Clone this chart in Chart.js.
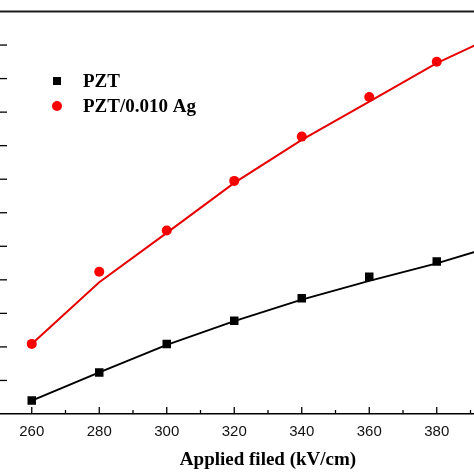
<!DOCTYPE html>
<html><head><meta charset="utf-8">
<script src="https://cdn.jsdelivr.net/npm/chart.js@4"></script>
<style>
html,body{margin:0;padding:0;background:#fff;}
#wrap{position:relative;width:474px;height:474px;overflow:hidden;background:#fff;}
#c{position:absolute;left:-40px;top:0;width:620px;height:474px;}
</style></head><body>
<div id="wrap"><canvas id="c" width="620" height="474"></canvas></div>
<script>
// ---- data ----
const fields = [260, 280, 300, 320, 340, 360, 380, 400];
const pztPoints = [0.040, 0.124, 0.209, 0.278, 0.345, 0.409, 0.455, 0.505];
const pztFit    = [0.040, 0.124, 0.206, 0.277, 0.341, 0.397, 0.449, 0.510];
const agPoints  = [0.209, 0.424, 0.547, 0.695, 0.827, 0.945, 1.050, 1.145];
const agFit     = [0.209, 0.393, 0.540, 0.689, 0.817, 0.931, 1.046, 1.140];
const seriesNames = ['PZT', 'PZT/0.010 Ag'];
const xTickLabels = [260, 280, 300, 320, 340, 360, 380, 400];
const xMinorTicks = [270, 290, 310, 330, 350, 370, 390];
const yTicks = [0.1, 0.2, 0.3, 0.4, 0.5, 0.6, 0.7, 0.8, 0.9, 1.0, 1.1];
const xTitle = 'Applied filed (kV/cm)';

const toXY = (ys) => fields.map((f, i) => ({x: f, y: ys[i]}));
const BLACK = '#000000';
const RED = '#ff0000';

const framePlugin = {
  id: 'frame',
  afterDraw(chart) {
    const ctx = chart.ctx;
    const a = chart.chartArea;
    const xs = chart.scales.x, ys = chart.scales.y;
    ctx.save();
    // top border
    ctx.strokeStyle = '#1a1a1a';
    ctx.lineWidth = 2;
    ctx.beginPath();
    ctx.moveTo(a.left, a.top); ctx.lineTo(a.right, a.top);
    ctx.stroke();
    // left border
    ctx.lineWidth = 1.5;
    ctx.strokeStyle = '#000';
    ctx.beginPath();
    ctx.moveTo(a.left, a.top); ctx.lineTo(a.left, a.bottom);
    ctx.stroke();
    // x ticks inward
    ctx.lineWidth = 1.3;
    xTickLabels.forEach(v => {
      const px = xs.getPixelForValue(v);
      ctx.beginPath(); ctx.moveTo(px, a.bottom); ctx.lineTo(px, a.bottom - 7); ctx.stroke();
    });
    xMinorTicks.forEach(v => {
      const px = xs.getPixelForValue(v);
      ctx.beginPath(); ctx.moveTo(px, a.bottom); ctx.lineTo(px, a.bottom - 4); ctx.stroke();
    });
    // y ticks inward
    yTicks.forEach(v => {
      const py = ys.getPixelForValue(v);
      ctx.beginPath(); ctx.moveTo(a.left, py); ctx.lineTo(a.left + 9, py); ctx.stroke();
    });
    // legend
    const lx = 97, ly = [81, 106], tx = 123;
    ctx.font = 'bold 19px "Liberation Serif", "Times New Roman", serif';
    ctx.textBaseline = 'middle';
    ctx.fillStyle = '#000';
    // square
    ctx.fillStyle = BLACK;
    ctx.fillRect(lx - 4, ly[0] - 4, 8, 8);
    ctx.fillStyle = RED;
    ctx.beginPath(); ctx.arc(lx, ly[1], 5, 0, Math.PI * 2); ctx.fill();
    ctx.fillStyle = '#000';
    ctx.fillText(seriesNames[0], tx, ly[0] + 1);
    ctx.fillText(seriesNames[1], tx, ly[1] + 1);
    ctx.restore();
  }
};

new Chart(document.getElementById('c'), {
  type: 'line',
  data: {
    datasets: [
      { label: seriesNames[0] + ' fit', data: toXY(pztFit), borderColor: BLACK, borderWidth: 2, pointRadius: 0, tension: 0, fill: false },
      { label: seriesNames[1] + ' fit', data: toXY(agFit), borderColor: '#e60000', borderWidth: 2, pointRadius: 0, tension: 0, fill: false },
      { label: seriesNames[0], data: toXY(pztPoints), showLine: false, pointStyle: 'rect', pointRadius: 6, backgroundColor: BLACK, borderColor: BLACK, borderWidth: 0 },
      { label: seriesNames[1], data: toXY(agPoints), showLine: false, pointStyle: 'circle', pointRadius: 5, backgroundColor: RED, borderColor: RED, borderWidth: 0 }
    ]
  },
  options: {
    responsive: false,
    devicePixelRatio: 1,
    animation: false,
    layout: { padding: { left: 38, right: 42, top: 11.5, bottom: 0 } },
    plugins: { legend: { display: false }, tooltip: { enabled: false } },
    scales: {
      x: {
        type: 'linear', min: 250, max: 410,
        afterBuildTicks: (s) => { s.ticks = xTickLabels.map(v => ({ value: v })); },
        afterFit: (s) => { s.height = 60; },
        grid: { display: false, drawTicks: false },
        border: { display: true, color: '#000', width: 1.5 },
        ticks: { color: '#111', font: { family: '"Liberation Sans", Arial, sans-serif', size: 15 }, padding: 9, maxRotation: 0 },
        title: { display: true, text: xTitle, color: '#000', font: { family: '"Liberation Serif", "Times New Roman", serif', size: 19, weight: 'bold' }, padding: { top: 0, bottom: 3 } }
      },
      y: {
        type: 'linear', min: 0, max: 1.2, display: false
      }
    }
  },
  plugins: [framePlugin]
});
</script>
</body></html>
